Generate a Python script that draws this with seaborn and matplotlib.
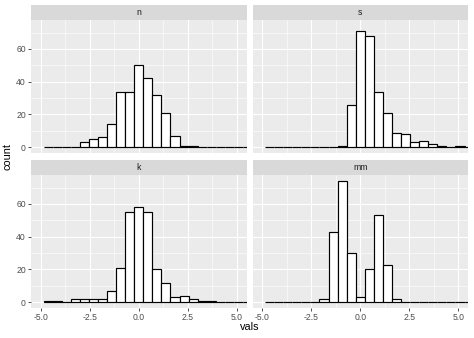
import numpy as np
import pandas as pd
import matplotlib
matplotlib.use("Agg")
import matplotlib.pyplot as plt
import seaborn as sns

# ---- data (bin counts; 30 bins) ----
groups = ["n", "s", "k", "mm"]
bin_width = 0.463
bin_index = list(range(-10, 20))  # bin centres = index * bin_width

counts_n = [0, 0, 0, 0, 3, 5, 6, 14, 34, 34, 50, 42, 32, 21, 7, 1, 1,
            0, 0, 0, 0, 0, 0, 0, 0, 0, 0, 0, 0, 0]
counts_s = [0, 0, 0, 0, 0, 0, 0, 0, 1, 26, 71, 68, 34, 21, 9, 8, 3,
            4, 2, 1, 0, 1, 0, 0, 0, 0, 0, 0, 0, 1]
counts_k = [1, 1, 0, 2, 2, 2, 2, 7, 21, 55, 58, 55, 20, 12, 3, 4, 2,
            1, 1, 0, 0, 0, 0, 1, 0, 1, 0, 0, 1, 0]
counts_mm = [0, 0, 0, 0, 0, 0, 2, 43, 74, 30, 3, 20, 53, 23, 2, 0, 0,
             0, 0, 0, 0, 0, 0, 0, 0, 0, 0, 0, 0, 0]
counts = {"n": counts_n, "s": counts_s, "k": counts_k, "mm": counts_mm}

x_ticks = [-5.0, -2.5, 0.0, 2.5, 5.0]
x_tick_labels = ["-5.0", "-2.5", "0.0", "2.5", "5.0"]
y_ticks = [0, 20, 40, 60]

centres = np.array(bin_index) * bin_width
edges = [float(e) for e in (np.arange(bin_index[0], bin_index[-1] + 2) - 0.5) * bin_width]

df = pd.DataFrame({
    "group": np.repeat(groups, len(centres)),
    "vals": np.tile(centres, len(groups)),
    "count": np.concatenate([counts[g] for g in groups]).astype(float),
})

plt.rcParams["font.family"] = ["Liberation Sans", "DejaVu Sans"]

# ---- figure ----
W, H = 474, 338
fig = plt.figure(figsize=(W / 100, H / 100), dpi=100)

def fx(px):
    return px / W

def fy(py):
    return 1 - py / H

panel_w = 215.5
cols_left = [31.0, 252.5]
rows = [(5.0, 20.0, 153.3), (159.5, 175.0, 308.3)]  # strip top, panel top, panel bottom

PANEL_BG = "#EBEBEB"
STRIP_BG = "#D9D9D9"
TICK_COL = "#4D4D4D"
SMALL = 6.25
TITLE = 7.8

ymax = max(max(c) for c in counts.values())
ylim = (-0.05 * ymax, 1.05 * ymax)

for i, g in enumerate(groups):
    r, c = divmod(i, 2)
    st, pt, pb = rows[r]
    left = cols_left[c]
    ax = fig.add_axes([fx(left), fy(pb), panel_w / W, (pb - pt) / H])
    sax = fig.add_axes([fx(left), fy(pt), panel_w / W, (pt - st) / H])
    sax.set_facecolor(STRIP_BG)
    sax.set_xticks([]); sax.set_yticks([])
    for s in sax.spines.values():
        s.set_visible(False)
    sax.text(0.5, 0.5, g, ha="center", va="center", fontsize=SMALL,
             color="#1A1A1A", transform=sax.transAxes)

    ax.set_facecolor(PANEL_BG)
    sub = df[df["group"] == g].reset_index(drop=True)
    sns.histplot(data=sub, x="vals", weights="count", bins=edges, ax=ax,
                 color="white", edgecolor="black", linewidth=0.85,
                 alpha=1, zorder=3)
    ax.set_xlim(-5.5, 5.5)
    ax.set_ylim(*ylim)
    ax.set_xticks(x_ticks)
    ax.set_xticks([-3.75, -1.25, 1.25, 3.75], minor=True)
    ax.set_yticks(y_ticks)
    ax.set_yticks([10, 30, 50, 70], minor=True)
    ax.grid(which="major", color="white", linewidth=0.8, zorder=1)
    ax.grid(which="minor", color="white", linewidth=0.4, zorder=1)
    ax.set_axisbelow(True)
    for s in ax.spines.values():
        s.set_visible(False)
    ax.set_xlabel(""); ax.set_ylabel("")
    ax.tick_params(which="major", length=2.2, width=0.6, color="#333333",
                   labelsize=SMALL, labelcolor=TICK_COL, pad=1.5)
    ax.tick_params(which="minor", length=0)
    if c == 0:
        ax.set_yticklabels([str(v) for v in y_ticks])
    else:
        ax.tick_params(axis="y", which="major", length=0, labelleft=False)
    if r == 1:
        ax.set_xticklabels(x_tick_labels)
    else:
        ax.tick_params(axis="x", which="major", length=0, labelbottom=False)

fig.text(fx(249.7), fy(327), "vals", ha="center", va="center", fontsize=TITLE, color="black")
fig.text(fx(8), fy(157), "count", ha="center", va="center", fontsize=TITLE,
         color="black", rotation=90)

fig.savefig("out.png", dpi=100)
